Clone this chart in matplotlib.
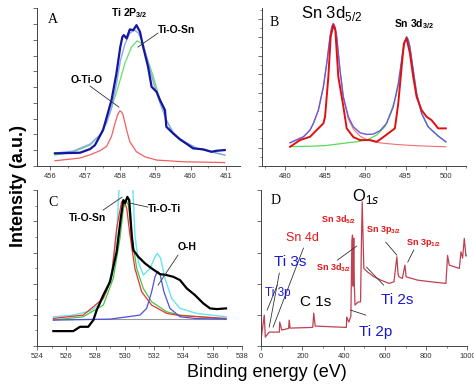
import matplotlib
matplotlib.use("Agg")
import matplotlib.pyplot as plt
from matplotlib.ticker import MultipleLocator

plt.rcParams['font.family'] = ['Liberation Sans', 'DejaVu Sans']
plt.rcParams['mathtext.fontset'] = 'custom'
plt.rcParams['mathtext.rm'] = 'Liberation Sans'
plt.rcParams['mathtext.bf'] = 'Liberation Sans:bold'

# ---------------- panel A : Ti 2p3/2 ----------------
a_raw_x = [456.14, 456.85, 457.14, 457.28, 457.51, 457.75, 457.89, 458.0, 458.06, 458.1,
           458.18, 458.27, 458.37, 458.46, 458.56, 458.65, 458.79, 458.89, 459.03, 459.13,
           459.27, 459.31, 459.5, 459.69, 460.07, 460.36, 460.59, 460.74, 460.97]
a_raw_y = [12.7, 13.3, 17, 21, 36, 66, 92.7, 119.3, 129.3, 131,
           127.7, 136.7, 136, 141, 134.3, 119.3, 99.3, 79.3, 74.3, 66,
           56, 39.3, 32.7, 27, 17.7, 16.7, 14.3, 15.3, 16]
a_fit_x = [456.14, 456.66, 457.14, 457.42, 457.61, 457.75, 457.89, 458.0, 458.13, 458.27,
           458.4, 458.52, 458.65, 458.79, 458.94, 459.13, 459.31, 459.5, 459.69, 460.17, 460.97]
a_fit_y = [13, 15, 22, 31, 43, 58, 82, 105, 122, 133,
           136, 133, 122, 104, 84, 63, 46, 34, 27, 18, 11]
a_tiosn_x = [456.14, 456.66, 457.14, 457.42, 457.7, 457.94, 458.13, 458.32, 458.48, 458.6,
             458.75, 458.94, 459.13, 459.31, 459.5, 459.69, 460.17, 460.97]
a_tiosn_y = [11, 14, 21, 31, 52.7, 79.3, 102.7, 119.3, 125.3, 122.7,
             109.3, 89.3, 66, 46, 32.7, 26, 17.7, 11]
a_otio_x = [456.14, 456.85, 457.14, 457.42, 457.61, 457.75, 457.85, 457.93, 457.99, 458.04,
            458.08, 458.18, 458.27, 458.46, 458.7, 459.03, 459.8, 460.97]
a_otio_y = [5.3, 8, 11.3, 15.3, 19.7, 29.7, 42.7, 52, 55.3, 54,
            51, 36, 24.3, 14.3, 9.3, 6, 4.3, 3.5]

# ---------------- panel B : Sn 3d ----------------
b_raw_x = [480.62, 481.86, 483.1, 483.93, 484.76, 484.97, 485.38, 485.67, 486.0, 486.25,
           486.62, 487.24, 487.66, 488.49, 489.32, 490.56, 491.39, 492.0, 492.83, 493.66,
           494.08, 494.5, 494.78, 495.12, 495.53, 495.94, 496.36, 496.98, 497.6, 498.22,
           499.05, 500]
b_raw_y = [19.3, 26, 29.3, 36, 42.7, 49.3, 89.3, 129.3, 141, 136,
           89.3, 60, 37.7, 29, 26, 26, 24.3, 27.7, 32.7, 37.7,
           62.7, 99.3, 122.7, 127.7, 112.7, 89.3, 69.3, 56, 49.3, 46,
           37.7, 37.7]
b_fit_x = [480.62, 482.28, 483.1, 483.52, 484.14, 484.76, 485.18, 485.59, 485.8, 486.0,
           486.2, 486.42, 486.83, 487.24, 487.87, 488.49, 489.32, 490.15, 490.97, 491.8,
           492.63, 493.46, 494.08, 494.62, 494.9, 495.12, 495.33, 495.53, 495.94, 496.36,
           496.98, 497.8, 499.05, 500]
b_fit_y = [23.3, 29.3, 36, 42.7, 56, 79.3, 102.7, 129.3, 139, 142.7,
           139, 129.3, 96, 69.3, 49.3, 39.3, 33.3, 31.7, 32, 35.3,
           42.7, 59.3, 82.7, 112.7, 125, 129.3, 126, 119.3, 96, 72.7,
           52.7, 39.3, 30, 24.3]
b_d52_x = [480.62, 482.28, 483.1, 483.52, 484.14, 484.76, 485.18, 485.59, 485.8, 486.0,
           486.2, 486.42, 486.83, 487.24, 487.87, 488.49, 489.32, 490.15, 490.97, 492.0,
           494.0, 496.0, 498.0, 500]
b_d52_y = [23.3, 29.3, 36, 42.7, 56, 79.3, 102.7, 129.3, 139, 142.7,
           139, 129.3, 96, 69.3, 47, 37, 30, 26.5, 24.5, 23,
           21.5, 20.5, 19.8, 19.3]
b_d32_x = [480.62, 483.1, 485.0, 487.24, 489.0, 490.15, 491.39, 492.42, 493.25, 493.8,
           494.2, 494.62, 494.9, 495.12, 495.33, 495.53, 495.94, 496.36, 496.98, 497.8,
           499.05, 500]
b_d32_y = [19.5, 19.8, 20.5, 22.7, 24.5, 26, 31, 39.3, 56, 70,
           85, 112.7, 125, 129.3, 126, 119.3, 96, 72.7, 52.7, 39.3,
           30, 24.3]

# ---------------- panel C : O 1s ----------------
c_raw_x = [525.12, 526.48, 526.94, 527.5, 527.85, 528.08, 528.53, 528.99, 529.44, 529.72,
           529.9, 530.02, 530.17, 530.3, 530.47, 530.58, 530.92, 531.38, 531.83, 532.4,
           532.86, 533.31, 533.77, 534.23, 534.79, 535.36, 535.82, 536.28, 536.91]
c_raw_y = [15, 15, 19.3, 19.3, 26, 36, 51, 64.3, 94.3, 127.7,
           146, 143, 149.3, 146, 111, 96, 89.3, 82.7, 77.7, 72,
           71, 69.3, 66, 57.7, 51, 42.7, 37.7, 37, 37.7]
c_sum_x = [525.12, 526.48, 527.62, 528.3, 528.53, 528.76, 529.1, 529.44, 529.62, 529.8,
           530.07, 530.35, 530.54, 530.69, 530.92, 531.26, 531.72, 532.06, 532.22, 532.45,
           532.74, 533.2, 533.77, 534.91, 536.91]
c_sum_y = [29.3, 31, 35, 42, 49, 55, 74.3, 111, 161, 220,
           260, 220, 161, 111, 84.3, 71, 77.7, 89.3, 92.7, 87.7,
           67.7, 47.7, 37.7, 32.7, 29.3]
c_tiosn_x = [525.12, 527.16, 528.53, 528.8, 529.1, 529.44, 529.78, 529.93, 530.13, 530.35,
             530.69, 531.15, 531.83, 532.86, 533.77, 536.91]
c_tiosn_y = [27.7, 31, 47.7, 57, 70, 117.7, 144.3, 146, 137.7, 111,
             77.7, 54.3, 41, 32.7, 30.5, 27.7]
c_tioti_x = [525.12, 527.16, 528.53, 529.21, 529.67, 529.9, 530.08, 530.24, 530.47, 530.81,
             531.26, 531.83, 532.86, 533.77, 536.91]
c_tioti_y = [26, 29.3, 41, 67.7, 107.7, 137.7, 146, 141, 111, 77.7,
             57.7, 44.3, 34.3, 31, 27]
c_oh_x = [525.12, 529.0, 531.03, 531.49, 531.83, 532.06, 532.24, 532.4, 532.67, 533.08,
          533.77, 534.91, 536.91]
c_oh_y = [26, 27, 31, 37.7, 54.3, 69.3, 74.7, 72.3, 54.3, 37.7, 29.3, 27.5, 27]
c_bg_x = [525.12, 536.91]
c_bg_y = [27, 27]

# ---------------- panel D : survey ----------------
d_x = [0, 15, 20, 39, 88, 90, 100, 133, 136, 140,
       250, 255, 262, 413, 415, 425, 435, 440, 443, 446,
       449, 452, 455, 469, 482, 486, 490, 494, 498, 515,
       547, 580, 620, 644, 658, 664, 668, 685, 697, 703,
       758, 823, 896, 904, 912, 937, 961, 969, 977, 985,
       993, 1002]
d_y = [7.7, 31, 9, 14, 14, 24, 16, 17.7, 26, 18,
       18.7, 33, 20, 18.7, 29, 24, 30, 105, 111, 60,
       108, 60, 41, 44, 44.3, 100, 144.3, 110, 77.7, 74.3,
       69.3, 66, 62.7, 64.3, 89.3, 72, 69.3, 67.7, 81, 69.3,
       66, 64.3, 62.7, 90.7, 81, 79.3, 77.7, 94.3, 88, 107.7,
       90, 91.7]

TICK = dict(labelsize=5.5, labelcolor='#333333', colors='#555555', width=0.6)
BOLD = dict(fontsize=7.5, fontweight='bold')


def style(ax, xlim, ylim, xmaj, xmin, ymaj, ymin):
    ax.set_xlim(*xlim)
    ax.set_ylim(*ylim)
    for s in ['top', 'right']:
        ax.spines[s].set_visible(False)
    for s in ['left', 'bottom']:
        ax.spines[s].set_color('#444444')
        ax.spines[s].set_linewidth(0.7)
    ax.xaxis.set_major_locator(MultipleLocator(xmaj))
    ax.xaxis.set_minor_locator(MultipleLocator(xmin))
    ax.yaxis.set_major_locator(MultipleLocator(ymaj))
    ax.yaxis.set_minor_locator(MultipleLocator(ymin))
    ax.tick_params(which='major', length=3, pad=2, **TICK)
    ax.tick_params(which='minor', length=1.5, colors='#555555', width=0.5)
    ax.set_yticklabels([])
    ax.patch.set_alpha(0)


def leader(ax, p0, p1):
    ax.plot([p0[0], p1[0]], [p0[1], p1[1]], color='#333333', lw=0.6)


fig = plt.figure(figsize=(4.74, 3.88), dpi=100)

# A
axA = fig.add_axes([0.078, 0.572, 0.428, 0.407])
axA.plot(a_otio_x, a_otio_y, color='#f06060', lw=0.9)
axA.plot(a_tiosn_x, a_tiosn_y, color='#66e066', lw=0.9)
axA.plot(a_fit_x, a_fit_y, color='#8aa8ea', lw=1.0)
axA.plot(a_raw_x, a_raw_y, color='#1515a0', lw=1.6)
style(axA, (455.63, 461.4), (0, 158), 1, 0.5, 15.8, 15.8)
axA.text(455.95, 143, 'A', family='Liberation Serif', fontsize=10)
axA.text(458.27, 153, r'Ti 2P$_\mathbf{3/2}$', ha='center', va='center', **BOLD)
axA.text(459.6, 136, 'Ti-O-Sn', ha='center', va='center', **BOLD)
leader(axA, (459.07, 133), (458.5, 119))
axA.text(457.05, 86, 'O-Ti-O', ha='center', va='center', **BOLD)
leader(axA, (457.14, 80), (457.96, 59))

# B
axB = fig.add_axes([0.553, 0.572, 0.43, 0.407])
axB.plot(b_d52_x, b_d52_y, color='#f07070', lw=0.8)
axB.plot(b_d32_x, b_d32_y, color='#55dd55', lw=0.9)
axB.plot(b_fit_x, b_fit_y, color='#6a5ad8', lw=1.0)
axB.plot(b_raw_x, b_raw_y, color='#e01010', lw=1.4)
style(axB, (477.14, 502.5), (0, 158), 5, 2.5, 18.4, 9.2)
axB.text(478.0, 140, 'B', family='Liberation Serif', fontsize=10)
axB.text(485.8, 153, r'Sn 3d$_{5/2}$', ha='center', va='center', fontsize=12)
axB.text(496.0, 142, r'Sn 3d$_\mathbf{3/2}$', ha='center', va='center', **BOLD)

# C
axC = fig.add_axes([0.078, 0.108, 0.4325, 0.402])
axC.plot(c_bg_x, c_bg_y, color='#999999', lw=0.8)
axC.plot(c_sum_x, c_sum_y, color='#66e4f0', lw=1.0)
axC.plot(c_tioti_x, c_tioti_y, color='#44c844', lw=0.9)
axC.plot(c_tiosn_x, c_tiosn_y, color='#ee3030', lw=0.9)
axC.plot(c_oh_x, c_oh_y, color='#5050d8', lw=0.9)
axC.plot(c_raw_x, c_raw_y, color='black', lw=1.6)
style(axC, (524, 538), (0, 156), 2, 1, 31.2, 15.6)
axC.text(524.8, 140, 'C', family='Liberation Serif', fontsize=10)
axC.text(527.48, 128, 'Ti-O-Sn', ha='center', va='center', **BOLD)
leader(axC, (528.51, 136), (529.81, 149))
axC.text(532.74, 137, 'Ti-O-Ti', ha='center', va='center', **BOLD)
leader(axC, (531.58, 139), (530.35, 143))
axC.text(534.25, 99, 'O-H', ha='center', va='center', **BOLD)
leader(axC, (533.63, 91), (532.27, 61))

# D
axD = fig.add_axes([0.551, 0.108, 0.435, 0.402])
axD.plot(d_x, d_y, color='#c04050', lw=0.9)
style(axD, (0, 1000), (0, 156), 200, 100, 31.2, 31.2)
axD.text(45, 142, 'D', family='Liberation Serif', fontsize=10)
axD.text(507, 150, r'O$_{1s}$', ha='center', va='center', fontsize=12)
red = '#e01818'
blue = '#1a1ad0'
axD.text(375, 126, r'Sn 3d$_\mathbf{5/2}$', ha='center', va='center', color=red, fontsize=6.5, fontweight='bold')
axD.text(351, 78, r'Sn 3d$_\mathbf{3/2}$', ha='center', va='center', color=red, fontsize=6.5, fontweight='bold')
leader(axD, (370, 86), (463, 100))
axD.text(594, 116, r'Sn 3p$_\mathbf{3/2}$', ha='center', va='center', color=red, fontsize=6.5, fontweight='bold')
leader(axD, (604, 104), (658, 91))
axD.text(789, 103, r'Sn 3p$_\mathbf{1/2}$', ha='center', va='center', color=red, fontsize=6.5, fontweight='bold')
leader(axD, (740, 96), (711, 84))
axD.text(200, 108, 'Sn 4d', ha='center', va='center', color=red, fontsize=9)
leader(axD, (205, 98), (58, 19))
axD.text(141, 84, 'Ti 3s', ha='center', va='center', color=blue, fontsize=11)
leader(axD, (88, 73), (39, 19))
axD.text(83, 53, 'Ti 3p', ha='center', va='center', color=blue, fontsize=8.5)
leader(axD, (78, 61), (29, 36))
axD.text(263, 44, 'C 1s', ha='center', va='center', color='black', fontsize=11)
axD.text(662, 46, 'Ti 2s', ha='center', va='center', color=blue, fontsize=11)
leader(axD, (594, 61), (511, 79))
axD.text(555, 14, 'Ti 2p', ha='center', va='center', color=blue, fontsize=11)
leader(axD, (507, 31), (434, 36))

fig.text(0.038, 0.52, 'Intensity (a.u.)', rotation=90, ha='center', va='center',
         fontsize=13, fontweight='bold')
fig.text(0.563, 0.04, 'Binding energy (eV)', ha='center', va='center', fontsize=13)

fig.savefig('out.png', dpi=100)
